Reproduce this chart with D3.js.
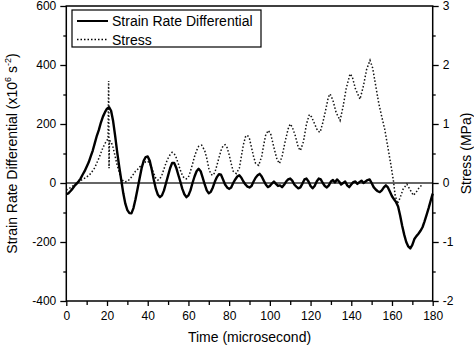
<!DOCTYPE html>
<html>
<head>
<meta charset="utf-8">
<script src="https://cdn.jsdelivr.net/npm/d3@7"></script>
<style>
  body { margin: 0; background: #fff; }
  #graf text { font-family: "Liberation Sans", Arial, sans-serif; fill: #000; }
</style>
</head>
<body>
<div id="graf"></div>
<script>
// strain rate differential (x10^6 s^-2) vs time (microsecond)
const strainTime = [
  0, 1, 2, 3, 4, 5, 6, 7, 8, 9, 10, 11, 12, 13, 14, 15, 16, 17, 18, 19,
  20, 21, 22, 23, 24, 25, 26, 27, 28, 29, 30, 31, 32, 33, 34, 35, 36, 37, 38, 39,
  40, 41, 42, 43, 44, 45, 46, 47, 48, 49, 50, 51, 52, 53, 54, 55, 56, 57, 58, 59,
  60, 61, 62, 63, 64, 65, 66, 67, 68, 69, 70, 71, 72, 73, 74, 75, 76, 77, 78, 79,
  80, 81, 82, 83, 84, 85, 86, 87, 88, 89, 90, 91, 92, 93, 94, 95, 96, 97, 98, 99,
  100, 101, 102, 103, 104, 105, 106, 107, 108, 109, 110, 111, 112, 113, 114, 115, 116, 117, 118, 119,
  120, 121, 122, 123, 124, 125, 126, 127, 128, 129, 130, 131, 132, 133, 134, 135, 136, 137, 138, 139,
  140, 141, 142, 143, 144, 145, 146, 147, 148, 149, 150, 151, 152, 153, 154, 155, 156, 157, 158, 159,
  160, 161, 162, 163, 164, 165, 166, 167, 168, 169, 170, 171, 172, 173, 174, 175, 176, 177, 178, 179, 180
]
const strainRate = [
  -38, -35, -28, -20, -10, -3, 5, 15, 28, 40, 55, 70, 90, 110, 135, 160, 180, 205, 225, 240,
  252, 257, 245, 210, 160, 105, 55, 10, -35, -70, -92, -102, -103, -85, -55, -20, 15, 50, 75, 88,
  90, 75, 45, 10, -20, -40, -48, -42, -25, 0, 25, 50, 68, 68, 52, 28, 5, -20, -38, -48,
  -42, -25, 0, 22, 40, 48, 40, 18, -5, -25, -35, -30, -15, 5, 20, 30, 28, 12, -5, -15,
  -20, -15, 0, 12, 22, 26, 18, 5, -5, -12, -15, -10, 5, 18, 26, 31, 22, 8, -5, -14,
  -10, -2, 5, -3, -10, -8, -14, -6, 5, 12, 15, 8, -5, -12, -18, -15, -2, 12, 15, 5,
  -10, -18, -10, 5, 15, 12, 0, -10, -15, -8, 5, 10, 2, 12, 5, -5, 0, 5, -8, -14,
  -5, 3, 5, -3, 3, 8, 0, 5, 10, 12, 0, -14, -22, -28, -31, -25, -15, -8, -15, -30,
  -45, -55, -65, -80, -110, -145, -175, -200, -215, -222, -210, -190, -180, -172, -162, -150, -130, -108, -85, -60, -36
]

// stress (MPa) vs time (microsecond)
const stressTime = [
  0, 2, 4, 6, 8, 10, 12, 14, 16, 18, 19.5, 20.5, 20.8, 21, 21.2, 22, 23, 24, 25, 26,
  27, 28, 29, 30, 31, 32, 33, 34, 35, 36, 37, 38, 39, 40, 41, 42, 43, 44, 45, 46,
  47, 48, 49, 50, 51, 52, 53, 54, 55, 56, 57, 58, 59, 60, 61, 62, 63, 64, 65, 66.5,
  68, 69, 70, 71, 72, 73, 74, 75, 76, 77, 78, 79, 80, 81, 82, 83.5, 85, 86, 87, 88,
  89, 90, 91, 92, 93, 94.5, 96, 97, 98, 99.3, 100.5, 102, 103.5, 104.7, 106, 107.5, 109, 110, 111, 112.5,
  114, 115, 116.5, 118, 119.4, 120.5, 122, 123.5, 124.7, 126, 127.5, 128.7, 129.6, 131, 132.5, 134.5, 136, 137.5, 139.4, 140.5,
  142, 144.3, 146, 147.5, 149.2, 150.5, 152, 153.5, 155, 156.5, 158, 159.5, 160.7, 161.5, 162.7, 164, 165.5, 167.3, 169, 170.5,
  172, 173.5, 174.6
]
const stress = [
  -0.12, -0.08, -0.03, 0.02, 0.06, 0.1, 0.16, 0.26, 0.42, 0.6, 0.7, 0.75, 1.73, 0.25, 0.72, 0.7, 0.6, 0.45, 0.3, 0.18,
  0.08, 0.03, 0.02, 0.03, 0.06, 0.1, 0.15, 0.2, 0.23, 0.27, 0.3, 0.33, 0.36, 0.37, 0.33, 0.25, 0.16, 0.08, 0.05, 0.07,
  0.14, 0.24, 0.34, 0.42, 0.48, 0.52, 0.5, 0.43, 0.33, 0.22, 0.13, 0.08, 0.07, 0.1, 0.2, 0.32, 0.45, 0.55, 0.62, 0.64,
  0.55, 0.42, 0.25, 0.15, 0.13, 0.18, 0.3, 0.43, 0.55, 0.63, 0.65, 0.6, 0.48, 0.33, 0.2, 0.16, 0.25, 0.45, 0.65, 0.78,
  0.81, 0.75, 0.6, 0.45, 0.33, 0.3, 0.45, 0.65, 0.82, 0.89, 0.82, 0.6, 0.4, 0.33, 0.45, 0.7, 0.92, 1.0, 0.95, 0.8,
  0.6, 0.55, 0.7, 1.0, 1.16, 1.12, 1.0, 0.88, 0.86, 1.02, 1.25, 1.45, 1.51, 1.4, 1.2, 1.06, 1.3, 1.6, 1.85, 1.8,
  1.6, 1.42, 1.65, 1.92, 2.08, 1.95, 1.65, 1.35, 1.12, 0.9, 0.6, 0.3, 0.04, -0.2, -0.35, -0.25, -0.1, -0.02, -0.12, -0.21,
  -0.15, -0.07, -0.04
]

const xTicks = [0, 20, 40, 60, 80, 100, 120, 140, 160, 180]
const xMinor = [10, 30, 50, 70, 90, 110, 130, 150, 170]
const yTicks = [-400, -200, 0, 200, 400, 600]
const yMinor = [-300, -100, 100, 300, 500]
const stressTicks = [-2, -1, 0, 1, 2, 3]
const stressMinor = [-1.5, -0.5, 0.5, 1.5, 2.5]

const ancho = 474
const alto = 346
const m = { top: 6, right: 41.3, bottom: 45, left: 66.3 }
const w = ancho - m.left - m.right
const h = alto - m.top - m.bottom

const svg = d3.select("#graf")
  .append("svg")
  .attr("width", ancho)
  .attr("height", alto)

const g = svg.append("g").attr("transform", `translate(${m.left},${m.top})`)

const x = d3.scaleLinear().domain([0, 180]).range([0, w])
const y = d3.scaleLinear().domain([-400, 600]).range([h, 0])
const y2 = d3.scaleLinear().domain([-2, 3]).range([h, 0])

const fmt = (d) => String(d)

// axes with major + minor ticks
const ejes = (sel) => sel.selectAll(".domain").remove()

g.append("g").attr("transform", `translate(0,${h})`)
  .call(d3.axisBottom(x).tickValues(xTicks).tickFormat(fmt).tickSize(5).tickPadding(5))
  .call(ejes)
g.append("g").attr("transform", `translate(0,${h})`)
  .call(d3.axisBottom(x).tickValues(xMinor).tickFormat("").tickSize(4))
  .call(ejes)

g.append("g")
  .call(d3.axisLeft(y).tickValues(yTicks).tickFormat(fmt).tickSize(6).tickPadding(4))
  .call(ejes)
g.append("g")
  .call(d3.axisLeft(y).tickValues(yMinor).tickFormat("").tickSize(3))
  .call(ejes)

g.append("g").attr("transform", `translate(${w},0)`)
  .call(d3.axisRight(y2).tickValues(stressTicks).tickFormat(fmt).tickSize(6).tickPadding(4))
  .call(ejes)
g.append("g").attr("transform", `translate(${w},0)`)
  .call(d3.axisRight(y2).tickValues(stressMinor).tickFormat("").tickSize(3))
  .call(ejes)

g.selectAll(".tick text").attr("font-size", 12).attr("font-family", null)
g.selectAll(".tick line").attr("stroke", "#000").attr("stroke-width", 1.3)

// zero line
g.append("line")
  .attr("x1", 0).attr("x2", w)
  .attr("y1", y(0)).attr("y2", y(0))
  .attr("stroke", "#333").attr("stroke-width", 1.3)

// curves
const lineaStrain = d3.line()
  .x((d, i) => x(strainTime[i]))
  .y((d) => y(d))
const lineaStress = d3.line()
  .x((d, i) => x(stressTime[i]))
  .y((d) => y2(d))

g.append("path")
  .datum(stress)
  .attr("d", lineaStress)
  .attr("fill", "none")
  .attr("stroke", "#111")
  .attr("stroke-width", 1.5)
  .attr("stroke-dasharray", "1.5 2")

g.append("path")
  .datum(strainRate)
  .attr("d", lineaStrain)
  .attr("fill", "none")
  .attr("stroke", "#000")
  .attr("stroke-width", 2.4)
  .attr("stroke-linejoin", "round")

// frame
g.append("rect")
  .attr("width", w).attr("height", h)
  .attr("fill", "none")
  .attr("stroke", "#000").attr("stroke-width", 1.5)

// axis titles
svg.append("text")
  .attr("x", m.left + w / 2)
  .attr("y", 342)
  .attr("text-anchor", "middle")
  .attr("font-size", 14)
  .text("Time (microsecond)")

const tituloY = svg.append("text")
  .attr("transform", `translate(17,${m.top + h / 2}) rotate(-90)`)
  .attr("text-anchor", "middle")
  .attr("font-size", 14)
tituloY.append("tspan").text("Strain Rate Differential (x10")
tituloY.append("tspan").attr("dy", -6).attr("font-size", 9).text("6")
tituloY.append("tspan").attr("dy", 6).text(" s")
tituloY.append("tspan").attr("dy", -6).attr("font-size", 9).text("-2")
tituloY.append("tspan").attr("dy", 6).text(")")

svg.append("text")
  .attr("transform", `translate(471,${m.top + h / 2}) rotate(-90)`)
  .attr("text-anchor", "middle")
  .attr("font-size", 14)
  .text("Stress (MPa)")

// legend
const leyenda = svg.append("g").attr("transform", "translate(72,10)")
leyenda.append("rect")
  .attr("width", 189).attr("height", 37)
  .attr("fill", "#fff").attr("stroke", "#000").attr("stroke-width", 1.2)
const items = [
  { nombre: "Strain Rate Differential", dash: null, ancho: 2 },
  { nombre: "Stress", dash: "1.5 2", ancho: 1.5 },
]
items.forEach((d, i) => {
  const fy = 11 + i * 18.5
  leyenda.append("line")
    .attr("x1", 5).attr("x2", 36)
    .attr("y1", fy).attr("y2", fy)
    .attr("stroke", "#000")
    .attr("stroke-width", d.ancho)
    .attr("stroke-dasharray", d.dash)
  leyenda.append("text")
    .attr("x", 40).attr("y", fy + 5)
    .attr("font-size", 14)
    .text(d.nombre)
})
</script>
</body>
</html>
